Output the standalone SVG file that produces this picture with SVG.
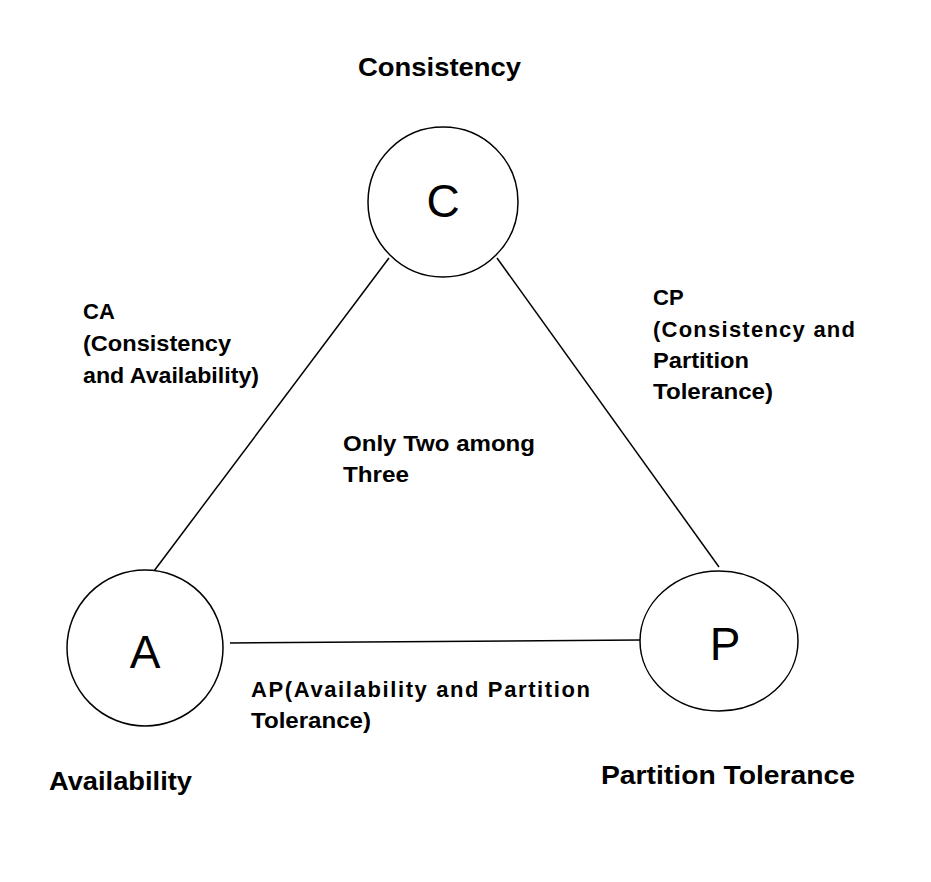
<svg xmlns="http://www.w3.org/2000/svg" width="931" height="882" viewBox="0 0 931 882">
<style>
.n{fill:#fff;stroke:#000;stroke-width:1.5}
.l{stroke:#000;stroke-width:1.5}
.t{font-family:"Liberation Sans",Arial,sans-serif;font-weight:bold;font-size:22px;fill:#000}
.h{font-family:"Liberation Sans",Arial,sans-serif;font-weight:bold;font-size:25px;fill:#000}
.b{font-family:"Liberation Sans",Arial,sans-serif;font-size:46px;fill:#000}
</style>
<rect width="931" height="882" fill="#fff"/>
<g id="connectors">
<line class="l" x1="389" y1="258" x2="154" y2="571"/>
<line class="l" x1="497" y1="258" x2="719" y2="567"/>
<line class="l" x1="230" y1="643" x2="640" y2="640"/>
</g>
<g id="nodeC"><circle class="n" cx="443" cy="202" r="75"/><text class="b" x="443" y="217" text-anchor="middle">C</text></g>
<g id="nodeA"><ellipse class="n" cx="145" cy="648" rx="78" ry="78"/><text class="b" x="145" y="668" text-anchor="middle">A</text></g>
<g id="nodeP"><ellipse class="n" cx="719" cy="641" rx="79" ry="70"/><text class="b" x="725" y="660" text-anchor="middle">P</text></g>
<g id="labels">
<text class="h" x="358" y="76" textLength="163" lengthAdjust="spacingAndGlyphs">Consistency</text>
<text class="h" x="49" y="790" textLength="143" lengthAdjust="spacingAndGlyphs">Availability</text>
<text class="h" x="601" y="784" textLength="254" lengthAdjust="spacingAndGlyphs">Partition Tolerance</text>
<text class="t" x="83" y="319">CA</text>
<text class="t" x="83" y="351" textLength="148" lengthAdjust="spacingAndGlyphs">(Consistency</text>
<text class="t" x="83" y="383" textLength="176" lengthAdjust="spacingAndGlyphs">and Availability)</text>
<text class="t" x="653" y="305">CP</text>
<text class="t" x="653" y="337" textLength="202" lengthAdjust="spacing">(Consistency  and</text>
<text class="t" x="653" y="368" textLength="96" lengthAdjust="spacingAndGlyphs">Partition</text>
<text class="t" x="653" y="399" textLength="120" lengthAdjust="spacingAndGlyphs">Tolerance)</text>
<text class="t" x="343" y="451" textLength="192" lengthAdjust="spacingAndGlyphs">Only Two among</text>
<text class="t" x="343" y="482" textLength="66" lengthAdjust="spacingAndGlyphs">Three</text>
<text class="t" x="251" y="697" textLength="339" lengthAdjust="spacing">AP(Availability   and   Partition</text>
<text class="t" x="251" y="728" textLength="120" lengthAdjust="spacingAndGlyphs">Tolerance)</text>
</g>
</svg>
